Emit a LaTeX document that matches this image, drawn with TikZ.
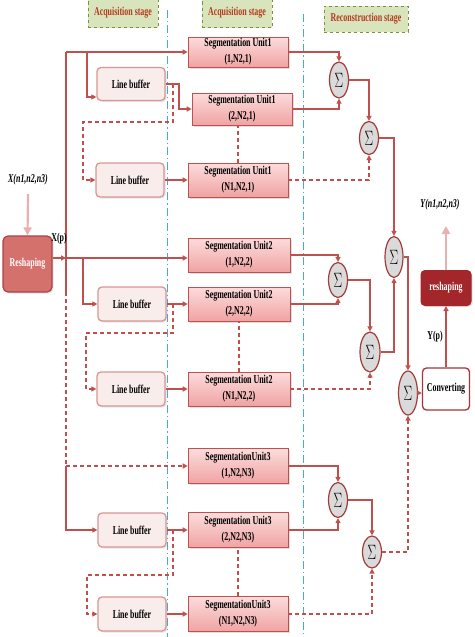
\documentclass[tikz,border=0pt]{standalone}
\usepackage{fontspec}
\setmainfont{Liberation Serif}[FakeStretch=0.66]
\usetikzlibrary{arrows.meta,shadows,calc,shapes.geometric}
\definecolor{lred}{HTML}{C0504D}
\definecolor{supink1}{HTML}{FCDCDC}
\definecolor{supink2}{HTML}{F0A3A3}
\definecolor{lbfill}{HTML}{F8EDEA}
\definecolor{lbborder}{HTML}{D99694}
\definecolor{sigb}{HTML}{A33B3B}
\definecolor{siggray}{HTML}{DADADA}
\definecolor{stgfill}{HTML}{D8E4BC}
\definecolor{stgborder}{HTML}{76923C}
\definecolor{stgtext}{HTML}{B5381E}
\definecolor{reshA}{HTML}{D4716D}
\definecolor{reshAb}{HTML}{A94442}
\definecolor{reshB}{HTML}{A3262A}
\definecolor{convb}{HTML}{A3373A}
\definecolor{pinkarr}{HTML}{E8B0B0}
\definecolor{bluel}{HTML}{4BACC6}
\begin{document}
\begin{tikzpicture}[x=1pt,y=-1pt,
  font=\bfseries\fontsize{12}{16}\selectfont,
  rl/.style={draw=lred,line width=1.4pt},
  arr/.style={-{Triangle[length=5pt,width=5pt]}},
  dsh/.style={draw=lred,line width=1.3pt,dash pattern=on 4pt off 3pt},
  blueline/.style={draw=bluel,line width=1pt,dash pattern=on 8pt off 3pt on 1.2pt off 3pt},
  stagebox/.style={draw=stgborder,dashed,line width=0.8pt,fill=stgfill,text=stgtext,inner sep=1pt},
  segbox/.style={draw=lred,line width=0.6pt,top color=supink1,bottom color=supink2,
     minimum width=100pt,minimum height=32pt,align=center,inner sep=1pt,
     drop shadow={opacity=0.25,shadow xshift=1.5pt,shadow yshift=-1.5pt}},
  lbbox/.style={draw=lbborder,line width=1.3pt,fill=lbfill,rounded corners=4pt,
     minimum width=68pt,minimum height=33pt,inner sep=1pt,
     drop shadow={opacity=0.2,shadow xshift=1.5pt,shadow yshift=-1.5pt}},
  sig/.style={ellipse,draw=sigb,line width=1.2pt,fill=siggray,minimum width=19pt,
     minimum height=36pt,inner sep=0pt,font=\fontsize{21}{21}\selectfont},
]
\newcommand{\sumsym}{\scalebox{0.62}[1]{$\Sigma$}}
\useasboundingbox (0,0) rectangle (474,637);
\fill[white] (0,0) rectangle (474,637);
% stage dividers
\coordinate (bl1t) at (167,10);
\coordinate (bl1b) at (167,637);
\coordinate (bl2t) at (303,14);
\coordinate (bl2b) at (303,637);
\draw[blueline] (bl1t) -- (bl1b);
\draw[blueline] (bl2t) -- (bl2b);
% stage labels
\node[stagebox,minimum width=70pt,minimum height=30pt] (st1) at (123,12.5) {Acquisition stage};
\node[stagebox,minimum width=70pt,minimum height=30pt] (st2) at (237,12.5) {Acquisition stage};
\node[stagebox,minimum width=84pt,minimum height=26pt] (st3) at (366,19) {Reconstruction stage};

% segmentation units
\node[segbox,minimum height=30pt] (su11) at (238,52) {Segmentation Unit1\\(1,N2,1)};
\node[segbox] (su12) at (242,109) {Segmentation Unit1\\(2,N2,1)};
\node[segbox,minimum height=34pt] (su1n) at (238,180) {Segmentation Unit1\\(N1,N2,1)};
\node[segbox,minimum width=102pt,minimum height=34pt] (su21) at (239,255) {Segmentation Unit2\\(1,N2,2)};
\node[segbox,minimum width=102pt,minimum height=34pt] (su22) at (239,304) {Segmentation Unit2\\(2,N2,2)};
\node[segbox,minimum width=102pt,minimum height=34pt] (su2n) at (239,389) {Segmentation Unit2\\(N1,N2,2)};
\node[segbox,minimum height=35pt] (su31) at (238,466) {SegmentationUnit3\\(1,N2,N3)};
\node[segbox,minimum height=35pt] (su32) at (238,530) {Segmentation Unit3\\(2,N2,N3)};
\node[segbox,minimum height=35pt] (su3n) at (238,614) {SegmentationUnit3\\(N1,N2,N3)};

% line buffers
\node[lbbox] (lb11) at (131,84) {Line buffer};
\node[lbbox,minimum height=34pt] (lb1n) at (130,180) {Line buffer};
\node[lbbox,minimum height=34pt] (lb21) at (132,304) {Line buffer};
\node[lbbox,minimum height=34pt] (lb2n) at (131,389) {Line buffer};
\node[lbbox,minimum height=34pt] (lb31) at (132,530) {Line buffer};
\node[lbbox,minimum height=34pt] (lb3n) at (132,614) {Line buffer};

% sums
\node[sig] (s11) at (339,80) {\sumsym};
\node[sig,minimum height=33pt] (s12) at (369,138) {\sumsym};
\node[sig,minimum width=18pt,minimum height=41pt] (sbig) at (394,257) {\sumsym};
\node[sig,minimum height=35pt] (s21) at (338,280) {\sumsym};
\node[sig,minimum width=20pt,minimum height=40pt] (s22) at (370,352) {\sumsym};
\node[sig,minimum height=44pt] (sfin) at (408,393) {\sumsym};
\node[sig,minimum height=35pt] (s31) at (338,500) {\sumsym};
\node[sig,minimum height=32pt] (s32) at (372,552) {\sumsym};

% input / output blocks
\node[draw=reshAb,line width=1.2pt,fill=reshA,rounded corners=5pt,text=white,
      minimum width=49pt,minimum height=56pt,inner sep=1pt,
      drop shadow={opacity=0.2,shadow xshift=1.5pt,shadow yshift=-1.5pt}] (resh1) at (27.5,264) {Reshaping};
\node[draw=reshB,line width=1pt,fill=reshB,rounded corners=4pt,text=white,
      minimum width=50pt,minimum height=35pt,inner sep=1pt,
      drop shadow={opacity=0.2,shadow xshift=1.5pt,shadow yshift=-1.5pt}] (resh2) at (446,288) {reshaping};
\node[draw=convb,line width=1.3pt,fill=white,rounded corners=4pt,
      minimum width=47pt,minimum height=42pt,inner sep=1pt] (conv) at (446,389) {Converting};

\node[font=\bfseries\itshape\fontsize{12}{14}\selectfont] (xlab) at (28,180) {X(n1,n2,n3)};
\node[font=\bfseries\itshape\fontsize{12}{14}\selectfont] (ylab) at (440,205) {Y(n1,n2,n3)};

\coordinate (xin) at (28,194);
\coordinate (yout) at (446,226);
\draw[draw=pinkarr,line width=2.2pt,-{Triangle[length=8pt,width=8pt]}] (xin) -- (resh1.north);
\draw[draw=pinkarr,line width=2.2pt,-{Triangle[length=8pt,width=8pt]}] (resh2.north) -- (yout);

% main distribution lines
\coordinate (topc) at (66,52);
\coordinate (jx) at (66,258);
\coordinate (vsolid) at (66,292);
\coordinate (v3a) at (66,466);
\coordinate (v3b) at (66,530);
\coordinate (j1) at (87,52);
\coordinate (j1b) at (87,97);
\coordinate (j2) at (83,258);
\draw[rl] (topc) -- (vsolid);
\draw[dsh] (vsolid) -- (v3a);
\draw[rl,arr] (v3a) -- (v3b) -- (lb31.west);
\draw[dsh,arr] (v3a) -- (su31.west);
\draw[rl,arr] (topc) -- (su11.west);
\draw[rl,arr] (j1) -- (j1b) -- (lb11.west |- j1b);
\draw[rl,arr] (resh1.east |- jx) -- (jx);
\draw[rl,arr] (jx) -- (su21.west |- jx);
\draw[rl,arr] (j2) |- (lb21.west);

% group 1 left
\coordinate (g1a) at (173,84);
\coordinate (g1b) at (173,122);
\coordinate (g1c) at (83,122);
\draw[rl,arr] (lb11.east) -- (179,84) |- (su12.west);
\draw[dsh,arr] (g1a) -- (g1b) -- (g1c) |- (lb1n.west);
\draw[rl,arr] (lb1n.east) -- (su1n.west);
\draw[dsh] (su1n.north) -- (su1n.north |- su12.south);

% group 2 left
\coordinate (g2a) at (173,304);
\coordinate (g2b) at (173,333);
\coordinate (g2c) at (86,333);
\draw[rl,arr] (lb21.east) -- (su22.west);
\draw[dsh,arr] (g2a) -- (g2b) -- (g2c) |- (lb2n.west);
\draw[rl,arr] (lb2n.east) -- (su2n.west);
\draw[dsh] (su2n.north) -- (su22.south);

% group 3 left
\coordinate (g3a) at (173,530);
\coordinate (g3b) at (173,575);
\coordinate (g3c) at (87,575);
\draw[rl,arr] (lb31.east) -- (su32.west);
\draw[dsh,arr] (g3a) -- (g3b) -- (g3c) |- (lb3n.west);
\draw[rl,arr] (lb3n.east) -- (su3n.west);
\draw[dsh] (su3n.north) -- (su32.south);

% group 1 right
\draw[rl,arr] (su11.east) -| (s11.north);
\draw[rl,arr] (su12.east) -| (s11.south);
\draw[rl,arr] (s11.east) -| (s12.north);
\draw[dsh,arr] (su1n.east) -| (s12.south);
\draw[rl,arr] (s12.east) -| (sbig.north);

% group 2 right
\draw[rl,arr] (su21.east) -| (s21.north);
\draw[rl,arr] (su22.east) -| (s21.south);
\draw[rl,arr] (s21.east) -| (s22.north);
\draw[dsh,arr] (su2n.east) -| (s22.south);
\draw[rl,arr] (s22.east) -| (sbig.south);

% group 3 right
\draw[rl,arr] (su31.east) -| (s31.north);
\draw[rl,arr] (su32.east) -| (s31.south);
\draw[rl,arr] (s31.east) -| (s32.north);
\draw[dsh,arr] (su3n.east) -| (s32.south);
\draw[dsh,arr] (s32.east) -| (sfin.south);

% final
\draw[rl,arr] (sbig.east) -| (sfin.north);
\draw[rl,arr] (sfin.east) -- (sfin.east -| conv.west);
\draw[rl,arr] (conv.north) -- (resh2.south);

% signal labels
\node[inner sep=0pt] (xp) at (59,239) {X(p)};
\node[inner sep=0pt] (yp) at (435,337) {Y(p)};
\end{tikzpicture}
\end{document}
